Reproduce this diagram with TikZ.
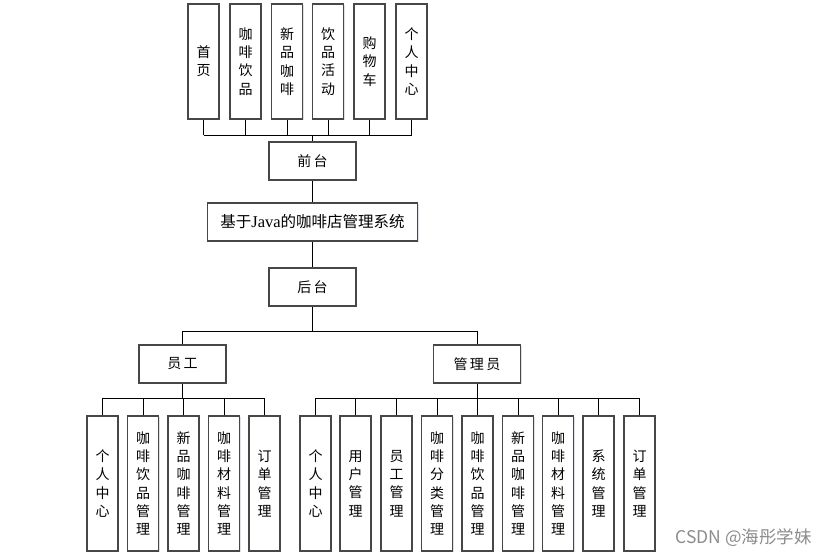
\documentclass[tikz,border=0pt]{standalone}
\usepackage{fontspec}
\newfontfamily\cjk{Noto Sans CJK SC}
\newfontfamily\lat{Liberation Serif}
\usetikzlibrary{shadows}
\begin{document}
\begin{tikzpicture}[x=1pt,y=-1pt,
  box/.style={draw=black!72, line width=1.2pt, fill=white, inner sep=0pt, align=center,
    font={\cjk\fontsize{14}{18.3}\selectfont},
    drop shadow={shadow xshift=1.2pt, shadow yshift=-1.2pt, fill=blue!20!black!20, opacity=0.6}},
  top/.style={box, minimum width=31pt, minimum height=115pt},
  leaf/.style={box, minimum width=31pt, minimum height=135pt},
  mid/.style={box, minimum width=87pt, minimum height=38pt},
  link/.style={draw=black, line width=0.9pt}]
\useasboundingbox (0,0) rectangle (826,556);
% top row
\node[top] (t1) at (203.5,61.5) {首\\页};
\node[top] (t2) at (245.5,61.5) {咖\\啡\\饮\\品};
\node[top] (t3) at (287,61.5) {新\\品\\咖\\啡};
\node[top] (t4) at (328,61.5) {饮\\品\\活\\动};
\node[top] (t5) at (369.5,61.5) {购\\物\\车};
\node[top] (t6) at (411.5,61.5) {个\\人\\中\\心};
\node[mid] (qt) at (312.5,161) {前\,台};
\node[box, minimum width=210pt, minimum height=38pt, font={\cjk\fontsize{15.5}{18}\selectfont}] (sys) at (312.5,222) {基于{\lat\fontsize{16.5}{18}\selectfont Java}的咖啡店管理系统};
\node[mid] (ht) at (312.5,287) {后\,台};
\node[mid] (yg) at (182.5,364) {员\,工};
\node[mid] (gly) at (477,364) {管\,理\,员};
% employee leaves
\node[leaf] (e1) at (102.5,483.5) {个\\人\\中\\心};
\node[leaf] (e2) at (143,483.5) {咖\\啡\\饮\\品\\管\\理};
\node[leaf] (e3) at (183.5,483.5) {新\\品\\咖\\啡\\管\\理};
\node[leaf] (e4) at (224,483.5) {咖\\啡\\材\\料\\管\\理};
\node[leaf] (e5) at (264.5,483.5) {订\\单\\管\\理};
% admin leaves
\node[leaf] (a1) at (315.5,483.5) {个\\人\\中\\心};
\node[leaf] (a2) at (355.5,483.5) {用\\户\\管\\理};
\node[leaf] (a3) at (396.5,483.5) {员\\工\\管\\理};
\node[leaf] (a4) at (437,483.5) {咖\\啡\\分\\类\\管\\理};
\node[leaf] (a5) at (477.5,483.5) {咖\\啡\\饮\\品\\管\\理};
\node[leaf] (a6) at (518,483.5) {新\\品\\咖\\啡\\管\\理};
\node[leaf] (a7) at (558,483.5) {咖\\啡\\材\\料\\管\\理};
\node[leaf] (a8) at (598.5,483.5) {系\\统\\管\\理};
\node[leaf] (a9) at (639.5,483.5) {订\\单\\管\\理};
% buses
\coordinate (b1) at (312.5,135);
\coordinate (b2) at (312.5,331);
\coordinate (b3) at (182.5,398);
\coordinate (b4) at (477,398);
% top connectors
\foreach \n in {t1,t2,t3,t4,t5,t6} \draw[link] (\n.south) -- (\n.south |- b1);
\draw[link] (t1.south |- b1) -- (t6.south |- b1);
\draw[link] (b1) -- (qt.north);
\draw[link] (qt.south) -- (sys.north);
\draw[link] (sys.south) -- (ht.north);
\draw[link] (ht.south) -- (b2);
\draw[link] (yg.north) -- (yg.north |- b2) -- (gly.north |- b2) -- (gly.north);
\draw[link] (yg.south) -- (b3);
\foreach \n in {e1,e2,e3,e4,e5} \draw[link] (\n.north) -- (\n.north |- b3);
\draw[link] (e1.north |- b3) -- (e5.north |- b3);
\draw[link] (gly.south) -- (b4);
\foreach \n in {a1,a2,a3,a4,a5,a6,a7,a8,a9} \draw[link] (\n.north) -- (\n.north |- b4);
\draw[link] (a1.north |- b4) -- (a9.north |- b4);
% watermark
\node[anchor=east, text=black!45, inner sep=0pt, font={\cjk\fontsize{17.5}{20}\selectfont}] (wm) at (812,538) {CSDN @海彤学妹};
\end{tikzpicture}
\end{document}
